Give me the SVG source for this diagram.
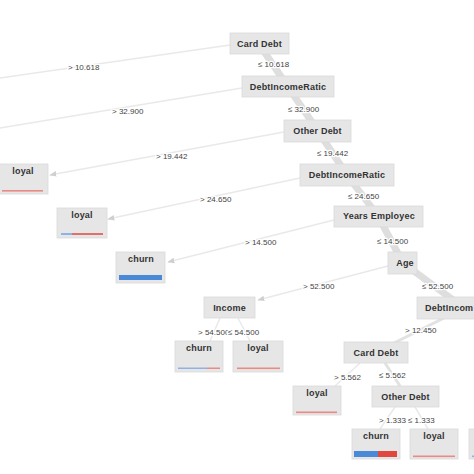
<svg xmlns="http://www.w3.org/2000/svg" width="474" height="474" viewBox="0 0 474 474">
<defs>
<marker id="ah" viewBox="0 0 10 10" refX="9" refY="5" markerWidth="7" markerHeight="7" markerUnits="userSpaceOnUse" orient="auto">
<path d="M0,1 L10,5 L0,9 z" fill="#cfcfcf"/>
</marker>
<style>
.box{fill:#e6e6e6;stroke:#dadada;stroke-width:0.8}
.nt{font-family:"Liberation Sans",Arial,sans-serif;font-size:9px;font-weight:bold;fill:#333;letter-spacing:0.2px}
.lt{font-family:"Liberation Sans",Arial,sans-serif;font-size:8px;fill:#444;stroke:#fff;stroke-width:2.5px;paint-order:stroke;stroke-linejoin:round}
.spine{stroke:#dedede;stroke-width:7;stroke-linecap:butt;fill:none}
.mid{stroke:#e2e2e2;stroke-width:3;fill:none}
.thin{stroke:#e9e9e9;stroke-width:1.5;fill:none}
.blue{fill:#4a88d8}
.red{fill:#e0483e}
.lblue{fill:#8fb2e6}
.lred{fill:#ea8a84}
</style>
</defs>
<rect width="474" height="474" fill="#fff"/>
<g id="connectors">
<line class="spine" x1="259" y1="44" x2="288" y2="87"/>
<line class="spine" x1="288" y1="87" x2="318" y2="131"/>
<line class="spine" x1="318" y1="131" x2="347" y2="175"/>
<line class="spine" x1="347" y1="175" x2="378" y2="216"/>
<line class="spine" x1="378" y1="216" x2="403" y2="263"/>
<line class="spine" x1="403" y1="263" x2="464" y2="308"/>
<line class="mid" x1="464" y1="308" x2="376" y2="352"/>
<line class="thin" x1="230" y1="45" x2="0" y2="78"/>
<line class="thin" x1="242" y1="88" x2="0" y2="128"/>
<line class="thin" x1="284" y1="132" x2="50" y2="175" marker-end="url(#ah)"/>
<line class="thin" x1="300" y1="178" x2="108" y2="219" marker-end="url(#ah)"/>
<line class="thin" x1="334" y1="220" x2="168" y2="262" marker-end="url(#ah)"/>
<line class="thin" x1="388" y1="266" x2="258" y2="300" marker-end="url(#ah)"/>
<line class="thin" x1="220" y1="318" x2="210" y2="341"/>
<line class="thin" x1="238" y1="318" x2="250" y2="341"/>
<line class="thin" x1="360" y1="363" x2="335" y2="386"/>
<line class="mid" x1="385" y1="363" x2="400" y2="386"/>
<line class="thin" x1="395" y1="407" x2="380" y2="429"/>
<line class="thin" x1="415" y1="407" x2="428" y2="429"/>
</g>
<g id="edge-labels">
<text class="lt" x="68" y="70">&gt; 10.618</text>
<text class="lt" x="258" y="67">≤ 10.618</text>
<text class="lt" x="112" y="114">&gt; 32.900</text>
<text class="lt" x="288" y="112">≤ 32.900</text>
<text class="lt" x="156" y="159">&gt; 19.442</text>
<text class="lt" x="317" y="156">≤ 19.442</text>
<text class="lt" x="200" y="202">&gt; 24.650</text>
<text class="lt" x="348" y="199">≤ 24.650</text>
<text class="lt" x="245" y="245">&gt; 14.500</text>
<text class="lt" x="377" y="244">≤ 14.500</text>
<text class="lt" x="303" y="289">&gt; 52.500</text>
<text class="lt" x="422" y="289">≤ 52.500</text>
<text class="lt" x="198" y="335">&gt; 54.500</text>
<text class="lt" x="228" y="335">≤ 54.500</text>
<text class="lt" x="405" y="333">&gt; 12.450</text>
<text class="lt" x="334" y="380">&gt; 5.562</text>
<text class="lt" x="379" y="378">≤ 5.562</text>
<text class="lt" x="379" y="423">&gt; 1.333</text>
<text class="lt" x="408" y="423">≤ 1.333</text>
</g>
<g id="n-card1"><rect class="box" x="230" y="33" width="59" height="21"/><text class="nt" x="259.5" y="47" text-anchor="middle">Card Debt</text></g>
<g id="n-dir1"><rect class="box" x="242" y="76" width="92" height="21"/><text class="nt" x="288" y="90" text-anchor="middle">DebtIncomeRatic</text></g>
<g id="n-other1"><rect class="box" x="284" y="120" width="67" height="22"/><text class="nt" x="317.5" y="134" text-anchor="middle">Other Debt</text></g>
<g id="n-dir2"><rect class="box" x="300" y="164" width="94" height="22"/><text class="nt" x="347" y="178" text-anchor="middle">DebtIncomeRatic</text></g>
<g id="n-ye"><rect class="box" x="334" y="206" width="89" height="21"/><text class="nt" x="343" y="219">Years Employec</text></g>
<g id="n-age"><rect class="box" x="388" y="252" width="29" height="22"/><text class="nt" x="405" y="266" text-anchor="middle">Age</text></g>
<g id="n-income"><rect class="box" x="204" y="297" width="51" height="21"/><text class="nt" x="229.5" y="311" text-anchor="middle">Income</text></g>
<g id="n-dir3"><rect class="box" x="417" y="297" width="94" height="22"/><text class="nt" x="425" y="311">DebtIncom</text></g>
<g id="n-card2"><rect class="box" x="344" y="342" width="64" height="21"/><text class="nt" x="376" y="356" text-anchor="middle">Card Debt</text></g>
<g id="n-other2"><rect class="box" x="372" y="386" width="67" height="21"/><text class="nt" x="405.5" y="400" text-anchor="middle">Other Debt</text></g>
<g id="leaf1"><rect class="box" x="-2" y="164" width="50" height="30"/><text class="nt" x="23" y="174" text-anchor="middle">loyal</text><rect class="lred" x="2" y="190" width="41" height="1.6"/></g>
<g id="leaf2"><rect class="box" x="57" y="208" width="50" height="30"/><text class="nt" x="82" y="218" text-anchor="middle">loyal</text><rect class="lblue" x="61" y="233" width="11" height="2"/><rect class="red" x="72" y="233" width="31" height="2" opacity="0.75"/></g>
<g id="leaf3"><rect class="box" x="116" y="252" width="49" height="31"/><text class="nt" x="141" y="262" text-anchor="middle">churn</text><rect class="blue" x="119" y="275" width="43" height="5"/></g>
<g id="leaf4"><rect class="box" x="175" y="341" width="48" height="31"/><text class="nt" x="199" y="351" text-anchor="middle">churn</text><rect class="lblue" x="178" y="367.5" width="29" height="1.5"/><rect class="lred" x="207" y="367.5" width="13" height="1.5"/></g>
<g id="leaf5"><rect class="box" x="233" y="341" width="50" height="31"/><text class="nt" x="258" y="351" text-anchor="middle">loyal</text><rect class="lred" x="237" y="367.5" width="43" height="1.6"/></g>
<g id="leaf6"><rect class="box" x="293" y="386" width="48" height="29"/><text class="nt" x="317" y="396" text-anchor="middle">loyal</text><rect class="lred" x="296" y="411.5" width="41" height="1.6"/></g>
<g id="leaf7"><rect class="box" x="352" y="429" width="48" height="30"/><text class="nt" x="376" y="439" text-anchor="middle">churn</text><rect class="blue" x="354" y="451" width="24" height="6"/><rect class="red" x="378" y="451" width="19" height="6"/></g>
<g id="leaf8"><rect class="box" x="410" y="429" width="48" height="30"/><text class="nt" x="434" y="439" text-anchor="middle">loyal</text><rect class="lred" x="413" y="455.5" width="42" height="1.6"/></g>
<g id="leaf9"><rect class="box" x="469" y="429" width="48" height="30"/><rect class="lblue" x="472" y="455.5" width="10" height="1.6"/></g>
</svg>
